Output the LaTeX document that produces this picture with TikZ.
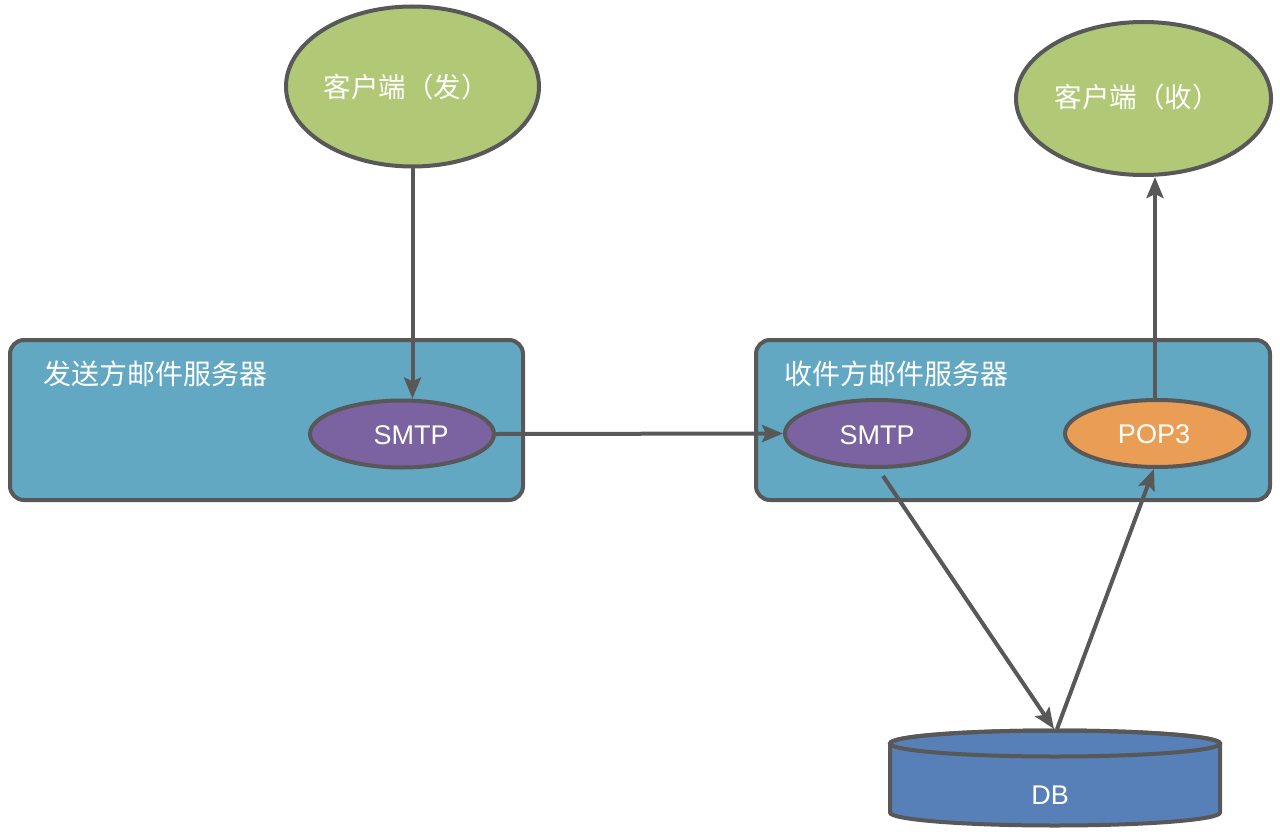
\documentclass[tikz,border=0pt]{standalone}
\usepackage{fontspec}
\setmainfont{Liberation Sans}
\newfontfamily\cjk{Noto Sans CJK SC}
\usetikzlibrary{shapes.geometric,arrows.meta,calc}
\definecolor{cgreen}{HTML}{B1C877}
\definecolor{cbox}{HTML}{62A8C2}
\definecolor{cpurple}{HTML}{7B62A1}
\definecolor{corange}{HTML}{EA9D55}
\definecolor{cdb}{HTML}{5780B9}
\definecolor{cborder}{HTML}{585858}
\begin{document}
\begin{tikzpicture}[x=1pt,y=1pt,
  oval/.style={ellipse, draw=cborder, line width=4pt, inner sep=0pt},
  txt/.style={text=white, font=\fontsize{27}{31}\selectfont, inner sep=0pt},
  cjktxt/.style={txt, font=\fontsize{28}{32}\selectfont\cjk},
  arr/.style={draw=cborder, line width=4pt, -{Stealth[length=21pt,width=17pt,inset=4pt]}},
  srv/.style={draw=cborder, line width=4pt, fill=cbox, rounded corners=14pt, inner sep=0pt}]
\useasboundingbox (0,0) rectangle (1280,-832);

% servers
\node[srv, minimum width=513pt, minimum height=160pt] (boxL) at (266.5,-420) {};
\node[srv, minimum width=514pt, minimum height=160pt] (boxR) at (1013,-420) {};
\node[cjktxt, anchor=west] (lblL) at (43,-373.5) {发送方邮件服务器};
\node[cjktxt, anchor=west] (lblR) at (784,-373.5) {收件方邮件服务器};

% clients
\node[oval, fill=cgreen, minimum width=253pt, minimum height=160pt] (cs) at (412.5,-86.5) {};
\node[cjktxt, font=\fontsize{27.5}{31}\selectfont\cjk] (csl) at (406,-87.5) {客户端（发）};
\node[oval, fill=cgreen, minimum width=255pt, minimum height=153pt] (cr) at (1143.5,-98.5) {};
\node[cjktxt, font=\fontsize{27.5}{31}\selectfont\cjk] (crl) at (1137,-97.5) {客户端（收）};

% protocol ovals
\node[oval, fill=cpurple, minimum width=184pt, minimum height=67pt] (smtpL) at (402,-434) {};
\node[txt] (smtpLl) at (411,-435) {SMTP};
\node[oval, fill=cpurple, minimum width=184pt, minimum height=67pt] (smtpR) at (877,-433.5) {};
\node[txt] (smtpRl) at (877,-435) {SMTP};
\node[oval, fill=corange, minimum width=184pt, minimum height=67pt] (pop3) at (1157,-433.5) {};
\node[txt] (pop3l) at (1154,-434) {POP3};

% database cylinder
\draw[cborder, line width=4pt, fill=cdb]
  (890,-743.5) -- (890,-812.5)
  arc[start angle=180, end angle=360, x radius=165, y radius=13]
  -- (1220,-743.5)
  arc[start angle=0, end angle=180, x radius=165, y radius=13] -- cycle;
\draw[cborder, line width=4pt] (1055,-743.5) ellipse [x radius=165, y radius=13];
\node[txt] (db) at (1050,-795) {DB};
\coordinate (dbtop) at (1055,-729);

% connectors
\draw[arr] (cs.south) -- (cs.south |- smtpL.north);
\draw[arr] (smtpL.east) -- (smtpR.west);
\draw[arr] ($(smtpR.south)+(6,-7)$) -- ($(dbtop)+(-1,0)$);
\draw[arr] ($(dbtop)+(2,0)$) -- (pop3.-95);
\draw[arr] ($(pop3.north)+(-2,0)$) coordinate (p3top) -- (p3top |- cr.south);
\end{tikzpicture}
\end{document}
